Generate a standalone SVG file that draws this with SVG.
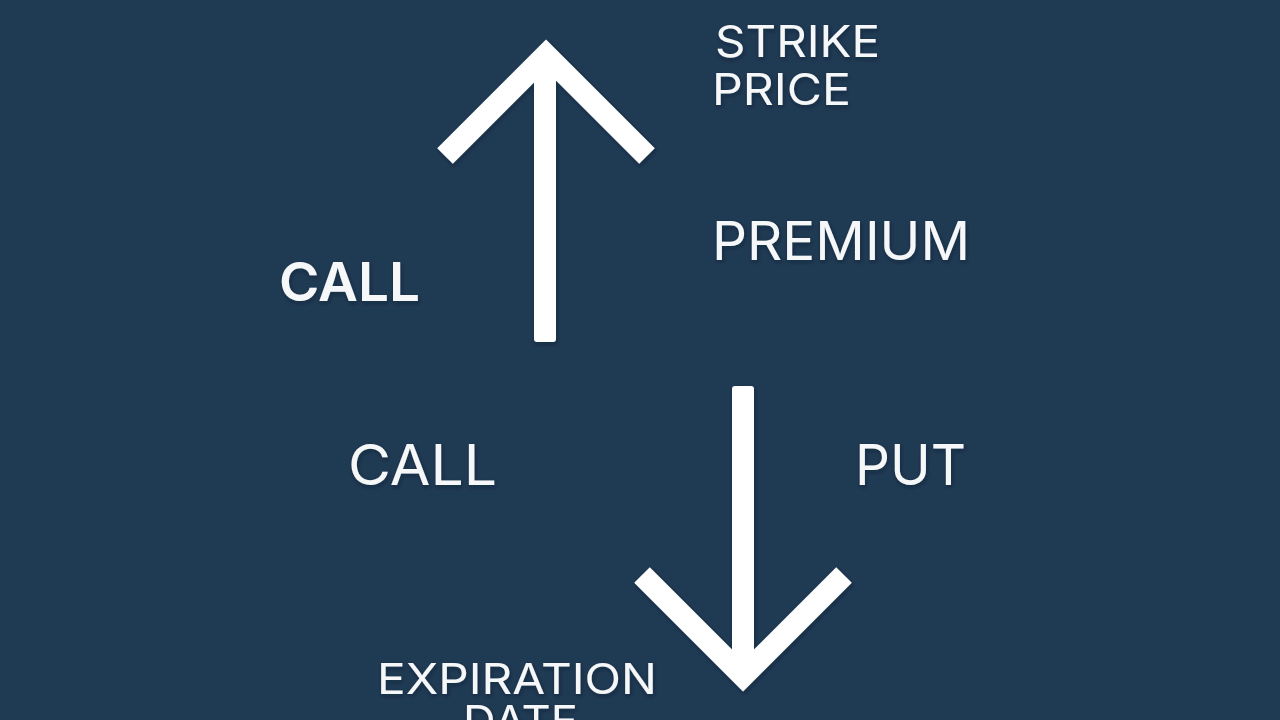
<svg xmlns="http://www.w3.org/2000/svg" width="1280" height="720" viewBox="0 0 1280 720">
  <defs>
    <style>
      .lbl { font-family: Inter, "Liberation Sans", sans-serif; fill: #f5f7f9; font-weight: 400; }
      .bold { font-weight: 600; }
      .arrow { fill: none; stroke: #ffffff; stroke-width: 22; stroke-linejoin: miter; }
      .shaft { fill: none; stroke: #ffffff; stroke-width: 22; }
    </style>
    <filter id="sh" x="-10%" y="-10%" width="120%" height="130%">
      <feDropShadow dx="1" dy="2" stdDeviation="2" flood-color="#0a1624" flood-opacity="0.4"/>
    </filter>
  </defs>
  <rect width="1280" height="720" fill="#1f3a53"/>

  <g id="connectors" filter="url(#sh)">
    <g id="arrow-up">
      <rect x="534" y="60" width="22" height="282" rx="3" fill="#ffffff"/>
      <polyline class="arrow" points="445,156 546,55 647,156"/>
    </g>
    <g id="arrow-down">
      <rect x="732" y="386" width="22" height="284" rx="3" fill="#ffffff"/>
      <polyline class="arrow" points="642,575 743,676 844,575"/>
    </g>
  </g>

  <g id="strike-price" filter="url(#sh)">
    <text class="lbl" x="715" y="57" font-size="44" textLength="165" lengthAdjust="spacingAndGlyphs">STRIKE</text>
    <text class="lbl" x="712" y="105" font-size="44" textLength="139" lengthAdjust="spacingAndGlyphs">PRICE</text>
  </g>
  <g id="premium" filter="url(#sh)">
    <text class="lbl" x="712" y="260" font-size="53" textLength="258" lengthAdjust="spacingAndGlyphs">PREMIUM</text>
  </g>
  <g id="call-upper" filter="url(#sh)">
    <text class="lbl bold" x="279" y="301" font-size="54" textLength="141" lengthAdjust="spacingAndGlyphs">CALL</text>
  </g>
  <g id="call-lower" filter="url(#sh)">
    <text class="lbl" x="348" y="485" font-size="56" textLength="149" lengthAdjust="spacingAndGlyphs">CALL</text>
  </g>
  <g id="put" filter="url(#sh)">
    <text class="lbl" x="855" y="485" font-size="56" textLength="111" lengthAdjust="spacingAndGlyphs">PUT</text>
  </g>
  <g id="expiration-date" filter="url(#sh)">
    <text class="lbl" x="377" y="694" font-size="42" textLength="280" lengthAdjust="spacingAndGlyphs">EXPIRATION</text>
    <text class="lbl" x="463" y="736" font-size="42" textLength="115" lengthAdjust="spacingAndGlyphs">DATE</text>
  </g>
</svg>
